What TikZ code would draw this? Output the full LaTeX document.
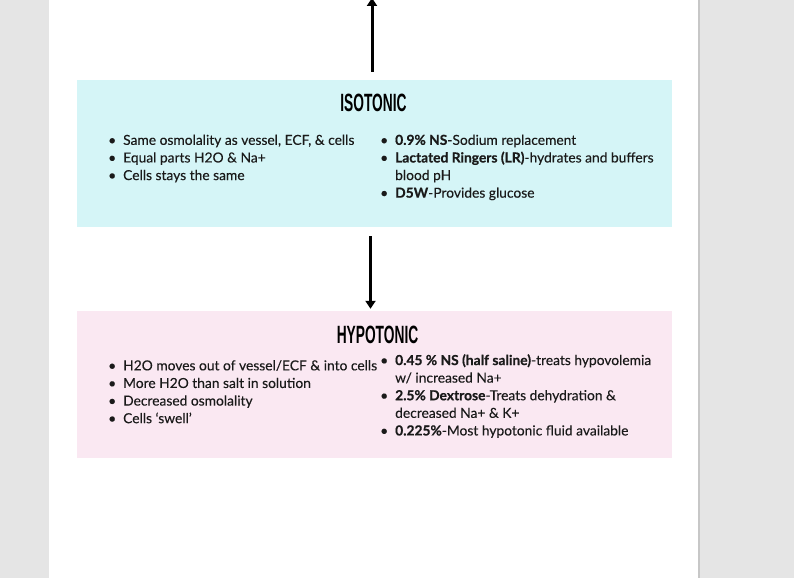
\documentclass[tikz,border=0pt]{standalone}
\usepackage{fontspec}
\setmainfont{Lato}[UprightFeatures={FakeBold=0.2}, BoldFeatures={FakeBold=0.6}]
\newfontfamily\titlefont{Liberation Sans}[FakeStretch=0.55]
\usepackage{tikz}
\usetikzlibrary{positioning,arrows.meta}
\definecolor{isocyan}{HTML}{D5F5F7}
\definecolor{hypopink}{HTML}{FAE8F2}
\definecolor{pagegrey}{HTML}{E5E5E5}
\definecolor{inkdark}{HTML}{1A1A1A}
\newcommand{\bul}{\makebox[15pt][l]{\textbullet}}
\newcommand{\ind}{\hspace*{15pt}}

\begin{document}
\begin{tikzpicture}[x=1pt, y=-1pt,
  fluidbox/.style={minimum width=595pt, minimum height=147pt, inner sep=0pt, draw=none},
  heading/.style={font=\titlefont\bfseries\fontsize{25}{25}\selectfont, text=black, inner sep=0pt, anchor=base},
  points/.style={font=\fontsize{13.8}{17.6}\selectfont, text=inkdark, align=left, inner sep=0pt, anchor=north west},
  flow/.style={line width=3pt, -{Triangle[width=10pt,length=8pt]}}]
  \useasboundingbox (0,0) rectangle (794,578);
  % page and margins
  \fill[pagegrey] (0,0) rectangle (794,578);
  \fill[white] (49,0) rectangle (698,578);
  \draw[black!22, line width=1.5pt] (699,0) -- (699,578);
  \coordinate (topend) at (372,-2);

  % (a) isotonic
  \node[fluidbox, fill=isocyan] (iso) at (374.5,153.5) {};
  \node[heading] (isoT) at (373.5,111) {ISOTONIC};
  \node[points] (isoL) at (108,134.5) {\bul Same osmolality as vessel, ECF, \& cells\\
    \bul Equal parts H2O \& Na+\\
    \bul Cells stays the same};
  \node[points] (isoR) at (380,134.5) {\bul\textbf{0.9\% NS}-Sodium replacement\\
    \bul\textbf{Lactated Ringers (LR)}-hydrates and buffers\\
    \ind blood pH\\
    \bul\textbf{D5W}-Provides glucose};

  % (b) hypotonic
  \node[fluidbox, fill=hypopink] (hypo) at (374.5,384.5) {};
  \node[heading] (hypoT) at (377.5,343.5) {HYPOTONIC};
  \node[points] (hypoL) at (108,360) {\bul H2O moves out of vessel/ECF \& into cells\\
    \bul More H2O than salt in solution\\
    \bul Decreased osmolality\\
    \bul Cells ‘swell’};
  \node[points] (hypoR) at (380,354) {\bul\textbf{0.45 \% NS (half saline)}-treats hypovolemia\\
    \ind w/ increased Na+\\
    \bul\textbf{2.5\% Dextrose}-Treats dehydration \&\\
    \ind decreased Na+ \& K+\\
    \bul\textbf{0.225\%}-Most hypotonic fluid available};

  % arrows
  \draw[flow] ([yshift=8pt]iso.north -| topend) -- (topend);
  \draw[flow] ([xshift=-4pt,yshift=-9pt]iso.south) -- ([xshift=-4pt,yshift=2pt]hypo.north);
\end{tikzpicture}
\end{document}
